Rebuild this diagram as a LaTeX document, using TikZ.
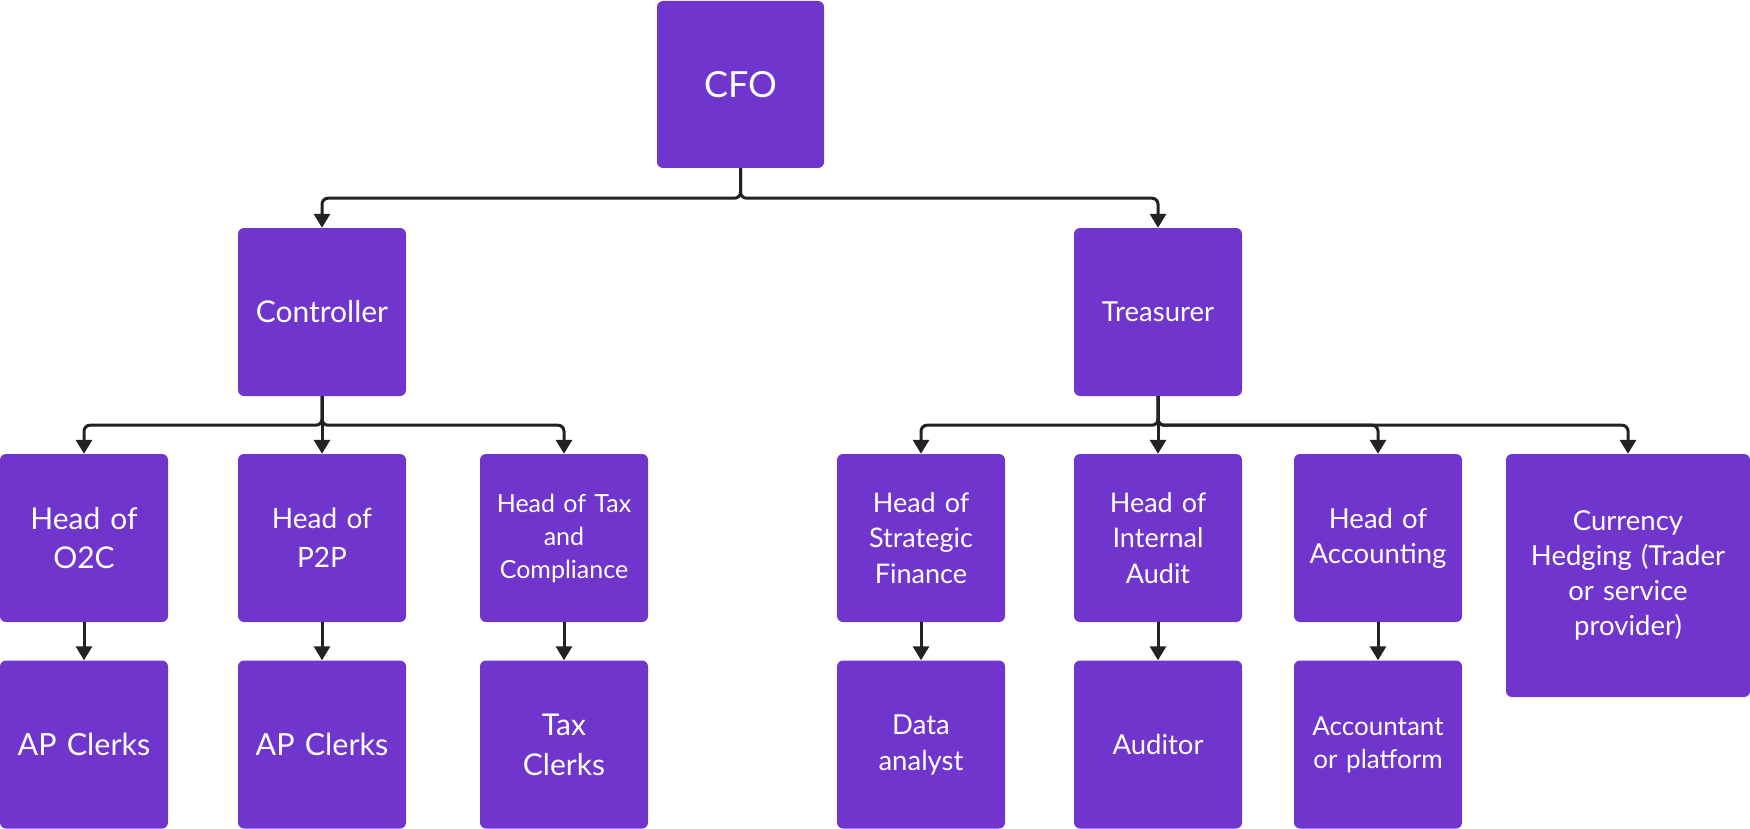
\documentclass[tikz,border=0pt]{standalone}
\usepackage{fontspec}
\setmainfont{Lato}
\usetikzlibrary{arrows.meta}
\definecolor{purp}{HTML}{7035CC}
\definecolor{lin}{HTML}{222222}
\newcommand{\fz}[2]{\fontsize{#1}{#2}\selectfont}
\tikzset{
  box/.style={fill=purp, rounded corners=6pt, minimum width=168pt, minimum height=168pt,
    align=center, text=white, inner sep=0pt, text width=164pt},
  conn/.style={draw=lin, line width=3pt, rounded corners=6pt,
    -{Triangle[width=16pt,length=14pt]}},
}
\begin{document}
\begin{tikzpicture}[x=1pt,y=-1pt]
\useasboundingbox (0,0) rectangle (1750,829);
% level 0
\node[box, minimum width=167pt, minimum height=167pt, font=\fz{36}{40}] (cfo) at (740.5,84.5) {CFO};
% level 1
\node[box, font=\fz{30}{34}] (ctrl) at (322,312) {Controller};
\node[box, font=\fz{27.5}{32}] (treas) at (1158,312) {Treasurer};
% level 2
\node[box, font=\fz{30}{39}] (o2c) at (84,538) {Head of\\O2C};
\node[box, font=\fz{28}{39}] (p2p) at (322,538) {Head of\\P2P};
\node[box, font=\fz{25}{33}] (htax) at (564,538) {Head of Tax\\and\\Compliance};
\node[box, font=\fz{27}{35.5}] (strat) at (921,538) {Head of\\Strategic\\Finance};
\node[box, font=\fz{27}{35.5}] (iaud) at (1158,538) {Head of\\Internal\\Audit};
\node[box, font=\fz{27.5}{35}] (hacc) at (1378,538) {Head of\\Accounting};
\node[box, minimum width=244pt, minimum height=243pt, text width=236pt, font=\fz{27.5}{35}] (curr) at (1628,575.5) {Currency\\Hedging (Trader\\or service\\provider)};
% level 3
\node[box, font=\fz{30.5}{40}] (ap1) at (84,744.5) {AP Clerks};
\node[box, font=\fz{30.5}{40}] (ap2) at (322,744.5) {AP Clerks};
\node[box, font=\fz{30}{40}] (taxc) at (564,744.5) {Tax\\Clerks};
\node[box, font=\fz{27.5}{36}] (data) at (921,744.5) {Data\\analyst};
\node[box, font=\fz{27.5}{36}] (audr) at (1158,744.5) {Auditor};
\node[box, font=\fz{26}{33}] (acnt) at (1378,744.5) {Accountant\\or platform};
% connectors
\draw[conn] (cfo.south) -- ++(0,30) -| (ctrl.north);
\draw[conn] (cfo.south) -- ++(0,30) -| (treas.north);
\draw[conn] (ctrl.south) -- ++(0,29) -| (o2c.north);
\draw[conn] (ctrl.south) -- (p2p.north);
\draw[conn] (ctrl.south) -- ++(0,29) -| (htax.north);
\draw[conn] (treas.south) -- ++(0,29) -| (strat.north);
\draw[conn] (treas.south) -- (iaud.north);
\draw[conn] (treas.south) -- ++(0,29) -| (hacc.north);
\draw[conn] (treas.south) -- ++(0,29) -| (curr.north);
\draw[conn] (o2c.south) -- (ap1.north);
\draw[conn] (p2p.south) -- (ap2.north);
\draw[conn] (htax.south) -- (taxc.north);
\draw[conn] (strat.south) -- (data.north);
\draw[conn] (iaud.south) -- (audr.north);
\draw[conn] (hacc.south) -- (acnt.north);
\end{tikzpicture}
\end{document}
